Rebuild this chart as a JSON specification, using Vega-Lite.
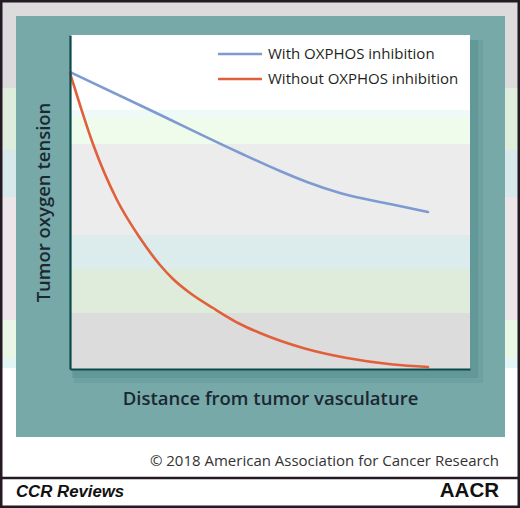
{
  "$schema": "https://vega.github.io/schema/vega-lite/v6.json",
  "autosize": "none",
  "width": 400,
  "height": 334,
  "padding": {"left": 70, "top": 35, "right": 50, "bottom": 139},
  "background": "#ffffff",
  "config": {"view": {"stroke": null}},
  "datasets": {
    "pageBands": [
      {"top": 110.48, "bottom": 84.13, "tone": "page-grey"},
      {"top": 84.13, "bottom": 65.57, "tone": "page-mint"},
      {"top": 65.57, "bottom": 51.5, "tone": "page-ice"},
      {"top": 51.5, "bottom": 14.67, "tone": "page-blush"},
      {"top": 14.67, "bottom": 3.29, "tone": "page-mint2"},
      {"top": 3.29, "bottom": 0.3, "tone": "page-ice2"},
      {"top": 0.3, "bottom": -41.62, "tone": "page-white"}
    ],
    "plotBands": [
      {"top": 100, "bottom": 77.54, "tone": "plot-white"},
      {"top": 77.54, "bottom": 75.45, "tone": "plot-ice"},
      {"top": 75.45, "bottom": 67.37, "tone": "plot-mint"},
      {"top": 67.37, "bottom": 40.12, "tone": "plot-grey"},
      {"top": 40.12, "bottom": 29.94, "tone": "plot-ice2"},
      {"top": 29.94, "bottom": 16.77, "tone": "plot-mint2"},
      {"top": 16.77, "bottom": 0, "tone": "plot-grey2"}
    ],
    "curves": [
      {"distance": 0, "oxygen": 88.92, "series": "With OXPHOS inhibition"},
      {"distance": 2, "oxygen": 77.54, "series": "With OXPHOS inhibition"},
      {"distance": 4.25, "oxygen": 64.67, "series": "With OXPHOS inhibition"},
      {"distance": 5.25, "oxygen": 59.28, "series": "With OXPHOS inhibition"},
      {"distance": 5.925, "oxygen": 55.99, "series": "With OXPHOS inhibition"},
      {"distance": 6.75, "oxygen": 52.69, "series": "With OXPHOS inhibition"},
      {"distance": 8, "oxygen": 49.4, "series": "With OXPHOS inhibition"},
      {"distance": 8.95, "oxygen": 47.01, "series": "With OXPHOS inhibition"},
      {"distance": 0, "oxygen": 88.62, "series": "Without OXPHOS inhibition"},
      {"distance": 0.25, "oxygen": 79.04, "series": "Without OXPHOS inhibition"},
      {"distance": 0.575, "oxygen": 67.37, "series": "Without OXPHOS inhibition"},
      {"distance": 1.175, "oxygen": 50.6, "series": "Without OXPHOS inhibition"},
      {"distance": 1.75, "oxygen": 39.22, "series": "Without OXPHOS inhibition"},
      {"distance": 2.25, "oxygen": 31.14, "series": "Without OXPHOS inhibition"},
      {"distance": 2.575, "oxygen": 26.95, "series": "Without OXPHOS inhibition"},
      {"distance": 3.0, "oxygen": 22.75, "series": "Without OXPHOS inhibition"},
      {"distance": 3.575, "oxygen": 18.26, "series": "Without OXPHOS inhibition"},
      {"distance": 4.25, "oxygen": 13.47, "series": "Without OXPHOS inhibition"},
      {"distance": 4.75, "oxygen": 10.78, "series": "Without OXPHOS inhibition"},
      {"distance": 5.825, "oxygen": 6.29, "series": "Without OXPHOS inhibition"},
      {"distance": 6.925, "oxygen": 3.29, "series": "Without OXPHOS inhibition"},
      {"distance": 8.075, "oxygen": 1.35, "series": "Without OXPHOS inhibition"},
      {"distance": 8.95, "oxygen": 0.6, "series": "Without OXPHOS inhibition"}
    ]
  },
  "layer": [
    {
      "data": {"name": "pageBands"},
      "mark": {"type": "rect"},
      "encoding": {
        "x": {"datum": -1.75, "type": "quantitative", "scale": {"domain": [0, 10], "nice": false, "zero": false}, "axis": {
          "title": "Distance from tumor vasculature",
          "domainColor": "#0d4a4c", "domainWidth": 2.2, "ticks": false, "labels": false, "grid": false,
          "titleFont": "Open Sans", "titleFontWeight": 600, "titleFontSize": 18.5, "titleColor": "#1b2733",
          "titlePadding": 20, "zindex": 1
        }},
        "x2": {"datum": 11.25},
        "y": {"field": "top", "type": "quantitative", "scale": {"domain": [0, 100], "nice": false, "zero": false}, "axis": {
          "title": "Tumor oxygen tension",
          "domainColor": "#0d4a4c", "domainWidth": 2.2, "ticks": false, "labels": false, "grid": false,
          "titleFont": "Open Sans", "titleFontWeight": 600, "titleFontSize": 18.5, "titleColor": "#1b2733",
          "titlePadding": 17, "zindex": 1
        }},
        "y2": {"field": "bottom"},
        "fill": {"field": "tone", "type": "nominal", "legend": null, "scale": {
          "domain": ["page-grey", "page-mint", "page-ice", "page-blush", "page-mint2", "page-ice2", "page-white",
                     "plot-white", "plot-ice", "plot-mint", "plot-grey", "plot-ice2", "plot-mint2", "plot-grey2"],
          "range": ["#dddbdb", "#dfeddc", "#d7e9ea", "#ece6e8", "#eaf7e7", "#e3f5f5", "#ffffff",
                    "#ffffff", "#eefafa", "#effcec", "#ececec", "#dcebeb", "#dfecdc", "#dcdcdc"]
        }}
      }
    },
    {
      "data": {"values": [{}]},
      "mark": {"type": "rect", "color": "#76a9a8"},
      "encoding": {
        "x": {"datum": -1.35, "type": "quantitative"},
        "x2": {"datum": 10.875},
        "y": {"datum": 105.69, "type": "quantitative"},
        "y2": {"datum": -20.36}
      }
    },
    {
      "data": {"values": [{}]},
      "mark": {"type": "rect", "color": "#4f8789", "opacity": 0.2},
      "encoding": {
        "x": {"datum": 0.1, "type": "quantitative"},
        "x2": {"datum": 10.33},
        "y": {"datum": 98.5, "type": "quantitative"},
        "y2": {"datum": -4.2}
      }
    },
    {
      "data": {"values": [{}]},
      "mark": {"type": "rect", "color": "#4f8789", "opacity": 0.35},
      "encoding": {
        "x": {"datum": 0.05, "type": "quantitative"},
        "x2": {"datum": 10.2},
        "y": {"datum": 98.5, "type": "quantitative"},
        "y2": {"datum": -2.7}
      }
    },
    {
      "data": {"name": "plotBands"},
      "mark": {"type": "rect"},
      "encoding": {
        "x": {"datum": 0, "type": "quantitative"},
        "x2": {"datum": 10},
        "y": {"field": "top", "type": "quantitative"},
        "y2": {"field": "bottom"},
        "fill": {"field": "tone", "type": "nominal", "legend": null}
      }
    },
    {
      "data": {"name": "curves"},
      "mark": {"type": "line", "interpolate": "monotone", "strokeWidth": 2.6, "strokeCap": "round"},
      "encoding": {
        "x": {"field": "distance", "type": "quantitative"},
        "y": {"field": "oxygen", "type": "quantitative"},
        "color": {"field": "series", "type": "nominal", "legend": null, "scale": {
          "domain": ["With OXPHOS inhibition", "Without OXPHOS inhibition"],
          "range": ["#7d9bd0", "#e0603b"]
        }}
      }
    },
    {
      "data": {"values": [{}]},
      "mark": {"type": "rule", "strokeWidth": 2.6},
      "encoding": {
        "x": {"datum": 3.7, "type": "quantitative"},
        "x2": {"datum": 4.8},
        "y": {"datum": 94.31, "type": "quantitative"},
        "color": {"datum": "With OXPHOS inhibition", "type": "nominal"}
      }
    },
    {
      "data": {"values": [{}]},
      "mark": {"type": "rule", "strokeWidth": 2.6},
      "encoding": {
        "x": {"datum": 3.7, "type": "quantitative"},
        "x2": {"datum": 4.8},
        "y": {"datum": 86.83, "type": "quantitative"},
        "color": {"datum": "Without OXPHOS inhibition", "type": "nominal"}
      }
    },
    {
      "data": {"values": [{}]},
      "mark": {"type": "text", "align": "left", "baseline": "middle", "font": "Open Sans", "fontSize": 15, "color": "#231f20"},
      "encoding": {
        "x": {"datum": 4.95, "type": "quantitative"},
        "y": {"datum": 94.31, "type": "quantitative"},
        "text": {"value": "With OXPHOS inhibition"}
      }
    },
    {
      "data": {"values": [{}]},
      "mark": {"type": "text", "align": "left", "baseline": "middle", "font": "Open Sans", "fontSize": 15, "color": "#231f20"},
      "encoding": {
        "x": {"datum": 4.95, "type": "quantitative"},
        "y": {"datum": 86.83, "type": "quantitative"},
        "text": {"value": "Without OXPHOS inhibition"}
      }
    },
    {
      "data": {"values": [{}]},
      "mark": {"type": "text", "align": "right", "baseline": "alphabetic", "font": "Open Sans", "fontSize": 15, "color": "#333333"},
      "encoding": {
        "x": {"datum": 10.725, "type": "quantitative"},
        "y": {"datum": -29.04, "type": "quantitative"},
        "text": {"value": "© 2018 American Association for Cancer Research"}
      }
    },
    {
      "data": {"values": [{}]},
      "mark": {"type": "rule", "strokeWidth": 2.5, "color": "#231a24"},
      "encoding": {
        "x": {"datum": -1.75, "type": "quantitative"},
        "x2": {"datum": 11.25},
        "y": {"datum": -32.63, "type": "quantitative"}
      }
    },
    {
      "data": {"values": [{}]},
      "mark": {"type": "text", "align": "left", "baseline": "alphabetic", "font": "Liberation Sans", "fontWeight": "bold", "fontStyle": "italic", "fontSize": 16.8, "color": "#111111"},
      "encoding": {
        "x": {"datum": -1.35, "type": "quantitative"},
        "y": {"datum": -38.32, "type": "quantitative"},
        "text": {"value": "CCR Reviews"}
      }
    },
    {
      "data": {"values": [{}]},
      "mark": {"type": "text", "align": "right", "baseline": "alphabetic", "font": "Liberation Sans", "fontWeight": "bold", "fontSize": 20.5, "color": "#111111"},
      "encoding": {
        "x": {"datum": 10.725, "type": "quantitative"},
        "y": {"datum": -38.32, "type": "quantitative"},
        "text": {"value": "AACR"}
      }
    },
    {
      "data": {"values": [{}]},
      "mark": {"type": "rect", "fillOpacity": 0, "stroke": "#231a24", "strokeWidth": 5},
      "encoding": {
        "x": {"datum": -1.75, "type": "quantitative"},
        "x2": {"datum": 11.25},
        "y": {"datum": 110.48, "type": "quantitative"},
        "y2": {"datum": -41.62}
      }
    }
  ]
}
